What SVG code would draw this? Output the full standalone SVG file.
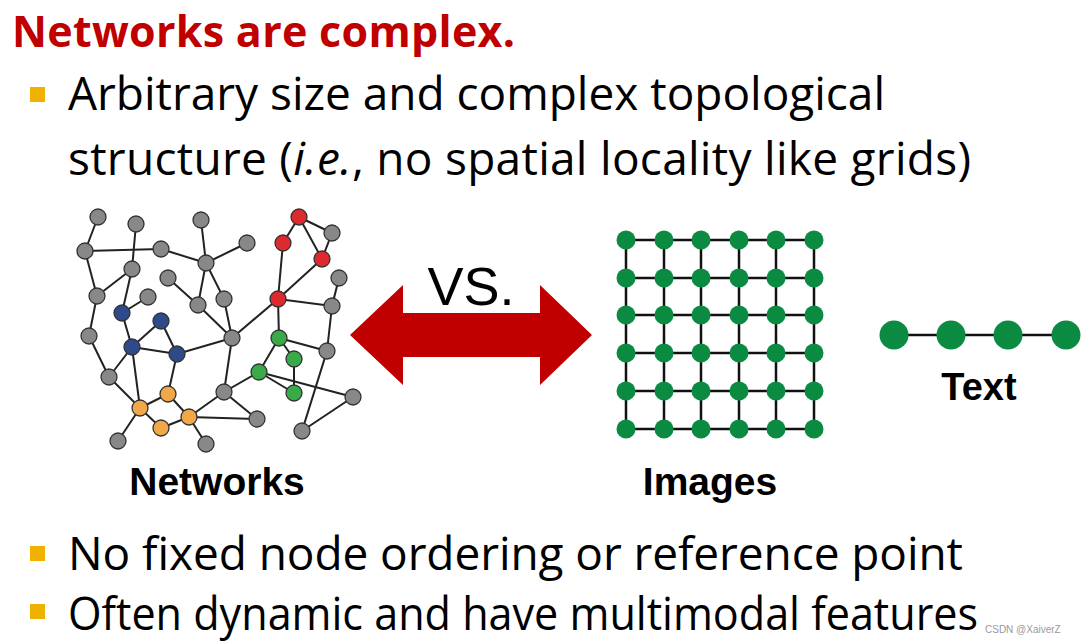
<svg xmlns="http://www.w3.org/2000/svg" width="1089" height="644" viewBox="0 0 1089 644">
<style>
.t{font-family:"Open Sans","Liberation Sans",sans-serif;font-size:46px;fill:#000}
.b{font-family:"Liberation Sans",Arial,sans-serif;font-weight:bold;fill:#000}
.g{fill:#888;stroke:#333;stroke-width:1.3}
.r{fill:#dd2a2e;stroke:#333;stroke-width:1.3}
.bl{fill:#2e4a8a;stroke:#333;stroke-width:1.3}
.gr{fill:#3aaa48;stroke:#333;stroke-width:1.3}
.o{fill:#f0a848;stroke:#333;stroke-width:1.3}
.e line{stroke:#222;stroke-width:2}
.gn{fill:#0b8a42}
</style>
<rect width="1089" height="644" fill="#fff"/>
<text x="12" y="47" textLength="503" style="font-family:'Open Sans','Liberation Sans',sans-serif;font-size:43px;font-weight:bold;fill:#c00000">Networks are complex.</text>
<rect x="30" y="87" width="15" height="15" fill="#f0b000"/>
<text class="t" x="68" y="110" textLength="817">Arbitrary size and complex topological</text>
<text class="t" x="68" y="175" textLength="903">structure (<tspan font-style="italic">i.e.</tspan>, no spatial locality like grids)</text>
<rect x="30" y="546" width="15" height="15" fill="#f0b000"/>
<text class="t" x="68" y="570" textLength="895">No fixed node ordering or reference point</text>
<rect x="30" y="604" width="15" height="15" fill="#f0b000"/>
<text class="t" x="68" y="630" textLength="910" lengthAdjust="spacingAndGlyphs">Often dynamic and have multimodal features</text>
<g id="network">
<g class="e">
<line x1="98" y1="217" x2="85" y2="251"/><line x1="85" y1="251" x2="161" y2="249"/><line x1="136" y1="224" x2="132" y2="269"/><line x1="161" y1="249" x2="206" y2="263"/><line x1="201" y1="220" x2="206" y2="263"/><line x1="206" y1="263" x2="247" y2="243"/><line x1="206" y1="263" x2="198" y2="305"/><line x1="206" y1="263" x2="224" y2="299"/><line x1="85" y1="251" x2="97" y2="296"/><line x1="97" y1="296" x2="132" y2="269"/><line x1="132" y1="269" x2="122" y2="313"/><line x1="122" y1="313" x2="148" y2="297"/><line x1="168" y1="278" x2="198" y2="305"/><line x1="198" y1="305" x2="232" y2="338"/><line x1="224" y1="299" x2="232" y2="338"/><line x1="232" y1="338" x2="278" y2="299"/><line x1="278" y1="299" x2="283" y2="243"/><line x1="283" y1="243" x2="299" y2="217"/><line x1="299" y1="217" x2="332" y2="233"/><line x1="299" y1="217" x2="322" y2="259"/><line x1="332" y1="233" x2="322" y2="259"/><line x1="322" y1="259" x2="278" y2="299"/><line x1="278" y1="299" x2="332" y2="306"/><line x1="339" y1="278" x2="332" y2="306"/><line x1="278" y1="299" x2="279" y2="338"/><line x1="332" y1="306" x2="327" y2="351"/><line x1="279" y1="338" x2="327" y2="351"/><line x1="279" y1="338" x2="294" y2="359"/><line x1="294" y1="359" x2="294" y2="393"/><line x1="279" y1="338" x2="259" y2="372"/><line x1="259" y1="372" x2="294" y2="393"/><line x1="259" y1="372" x2="353" y2="397"/><line x1="353" y1="397" x2="302" y2="431"/><line x1="327" y1="351" x2="302" y2="431"/><line x1="97" y1="296" x2="89" y2="336"/><line x1="89" y1="336" x2="109" y2="377"/><line x1="109" y1="377" x2="132" y2="347"/><line x1="132" y1="347" x2="161" y2="321"/><line x1="161" y1="321" x2="177" y2="354"/><line x1="132" y1="347" x2="177" y2="354"/><line x1="177" y1="354" x2="232" y2="338"/><line x1="122" y1="313" x2="132" y2="347"/><line x1="132" y1="347" x2="140" y2="408"/><line x1="109" y1="377" x2="140" y2="408"/><line x1="140" y1="408" x2="168" y2="394"/><line x1="140" y1="408" x2="118" y2="441"/><line x1="140" y1="408" x2="161" y2="428"/><line x1="161" y1="428" x2="189" y2="417"/><line x1="168" y1="394" x2="189" y2="417"/><line x1="177" y1="354" x2="168" y2="394"/><line x1="189" y1="417" x2="224" y2="392"/><line x1="189" y1="417" x2="257" y2="419"/><line x1="224" y1="392" x2="257" y2="419"/><line x1="224" y1="392" x2="259" y2="372"/><line x1="224" y1="392" x2="232" y2="338"/><line x1="189" y1="417" x2="206" y2="444"/>
</g>
<g>
<circle class="g" cx="98" cy="217" r="8"/><circle class="g" cx="136" cy="224" r="8"/><circle class="g" cx="201" cy="220" r="8"/><circle class="r" cx="299" cy="217" r="8"/><circle class="g" cx="332" cy="233" r="8"/><circle class="r" cx="283" cy="243" r="8"/><circle class="r" cx="322" cy="259" r="8"/><circle class="g" cx="247" cy="243" r="8"/><circle class="g" cx="85" cy="251" r="8"/><circle class="g" cx="161" cy="249" r="8"/><circle class="g" cx="206" cy="263" r="8"/><circle class="g" cx="132" cy="269" r="8"/><circle class="g" cx="168" cy="278" r="8"/><circle class="g" cx="339" cy="278" r="8"/><circle class="g" cx="97" cy="296" r="8"/><circle class="g" cx="148" cy="297" r="8"/><circle class="g" cx="198" cy="305" r="8"/><circle class="g" cx="224" cy="299" r="8"/><circle class="r" cx="278" cy="299" r="8"/><circle class="g" cx="332" cy="306" r="8"/><circle class="bl" cx="122" cy="313" r="8"/><circle class="bl" cx="161" cy="321" r="8"/><circle class="g" cx="89" cy="336" r="8"/><circle class="bl" cx="132" cy="347" r="8"/><circle class="g" cx="232" cy="338" r="8"/><circle class="gr" cx="279" cy="338" r="8"/><circle class="bl" cx="177" cy="354" r="8"/><circle class="g" cx="327" cy="351" r="8"/><circle class="gr" cx="294" cy="359" r="8"/><circle class="gr" cx="259" cy="372" r="8"/><circle class="g" cx="109" cy="377" r="8"/><circle class="o" cx="168" cy="394" r="8"/><circle class="g" cx="224" cy="392" r="8"/><circle class="gr" cx="294" cy="393" r="8"/><circle class="g" cx="353" cy="397" r="8"/><circle class="o" cx="140" cy="408" r="8"/><circle class="o" cx="189" cy="417" r="8"/><circle class="g" cx="257" cy="419" r="8"/><circle class="o" cx="161" cy="428" r="8"/><circle class="g" cx="302" cy="431" r="8"/><circle class="g" cx="118" cy="441" r="8"/><circle class="g" cx="206" cy="444" r="8"/>
</g>
</g>
<text class="b" x="217" y="495" font-size="39" text-anchor="middle">Networks</text>
<g id="arrow"><polygon points="350,335 403,285 403,313 540,313 540,285 592,335 540,385 540,357 403,357 403,385" fill="#c00000"/></g>
<text class="b" x="471" y="305" font-size="54" text-anchor="middle" style="font-weight:normal">VS.</text>
<g id="grid">
<g stroke="#111" stroke-width="2.5">
<path d="M626 240H814M626 278H814M626 315H814M626 353H814M626 391H814M626 429H814M626 240V429M664 240V429M701 240V429M739 240V429M776 240V429M814 240V429"/>
</g>
<g class="gn">
<circle cx="626" cy="240" r="9.5"/><circle cx="664" cy="240" r="9.5"/><circle cx="701" cy="240" r="9.5"/><circle cx="739" cy="240" r="9.5"/><circle cx="776" cy="240" r="9.5"/><circle cx="814" cy="240" r="9.5"/>
<circle cx="626" cy="278" r="9.5"/><circle cx="664" cy="278" r="9.5"/><circle cx="701" cy="278" r="9.5"/><circle cx="739" cy="278" r="9.5"/><circle cx="776" cy="278" r="9.5"/><circle cx="814" cy="278" r="9.5"/>
<circle cx="626" cy="315" r="9.5"/><circle cx="664" cy="315" r="9.5"/><circle cx="701" cy="315" r="9.5"/><circle cx="739" cy="315" r="9.5"/><circle cx="776" cy="315" r="9.5"/><circle cx="814" cy="315" r="9.5"/>
<circle cx="626" cy="353" r="9.5"/><circle cx="664" cy="353" r="9.5"/><circle cx="701" cy="353" r="9.5"/><circle cx="739" cy="353" r="9.5"/><circle cx="776" cy="353" r="9.5"/><circle cx="814" cy="353" r="9.5"/>
<circle cx="626" cy="391" r="9.5"/><circle cx="664" cy="391" r="9.5"/><circle cx="701" cy="391" r="9.5"/><circle cx="739" cy="391" r="9.5"/><circle cx="776" cy="391" r="9.5"/><circle cx="814" cy="391" r="9.5"/>
<circle cx="626" cy="429" r="9.5"/><circle cx="664" cy="429" r="9.5"/><circle cx="701" cy="429" r="9.5"/><circle cx="739" cy="429" r="9.5"/><circle cx="776" cy="429" r="9.5"/><circle cx="814" cy="429" r="9.5"/>
</g>
</g>
<text class="b" x="710" y="495" font-size="39" text-anchor="middle">Images</text>
<g id="chain">
<line x1="894" y1="335" x2="1066" y2="335" stroke="#111" stroke-width="2.5"/>
<g class="gn"><circle cx="894" cy="335" r="14.5"/><circle cx="951" cy="335" r="14.5"/><circle cx="1008" cy="335" r="14.5"/><circle cx="1066" cy="335" r="14.5"/></g>
</g>
<text class="b" x="979" y="400" font-size="38" text-anchor="middle">Text</text>
<text x="985" y="633" style="font-family:'Liberation Sans',sans-serif;font-size:10px;fill:#999">CSDN @XaiverZ</text>
</svg>
